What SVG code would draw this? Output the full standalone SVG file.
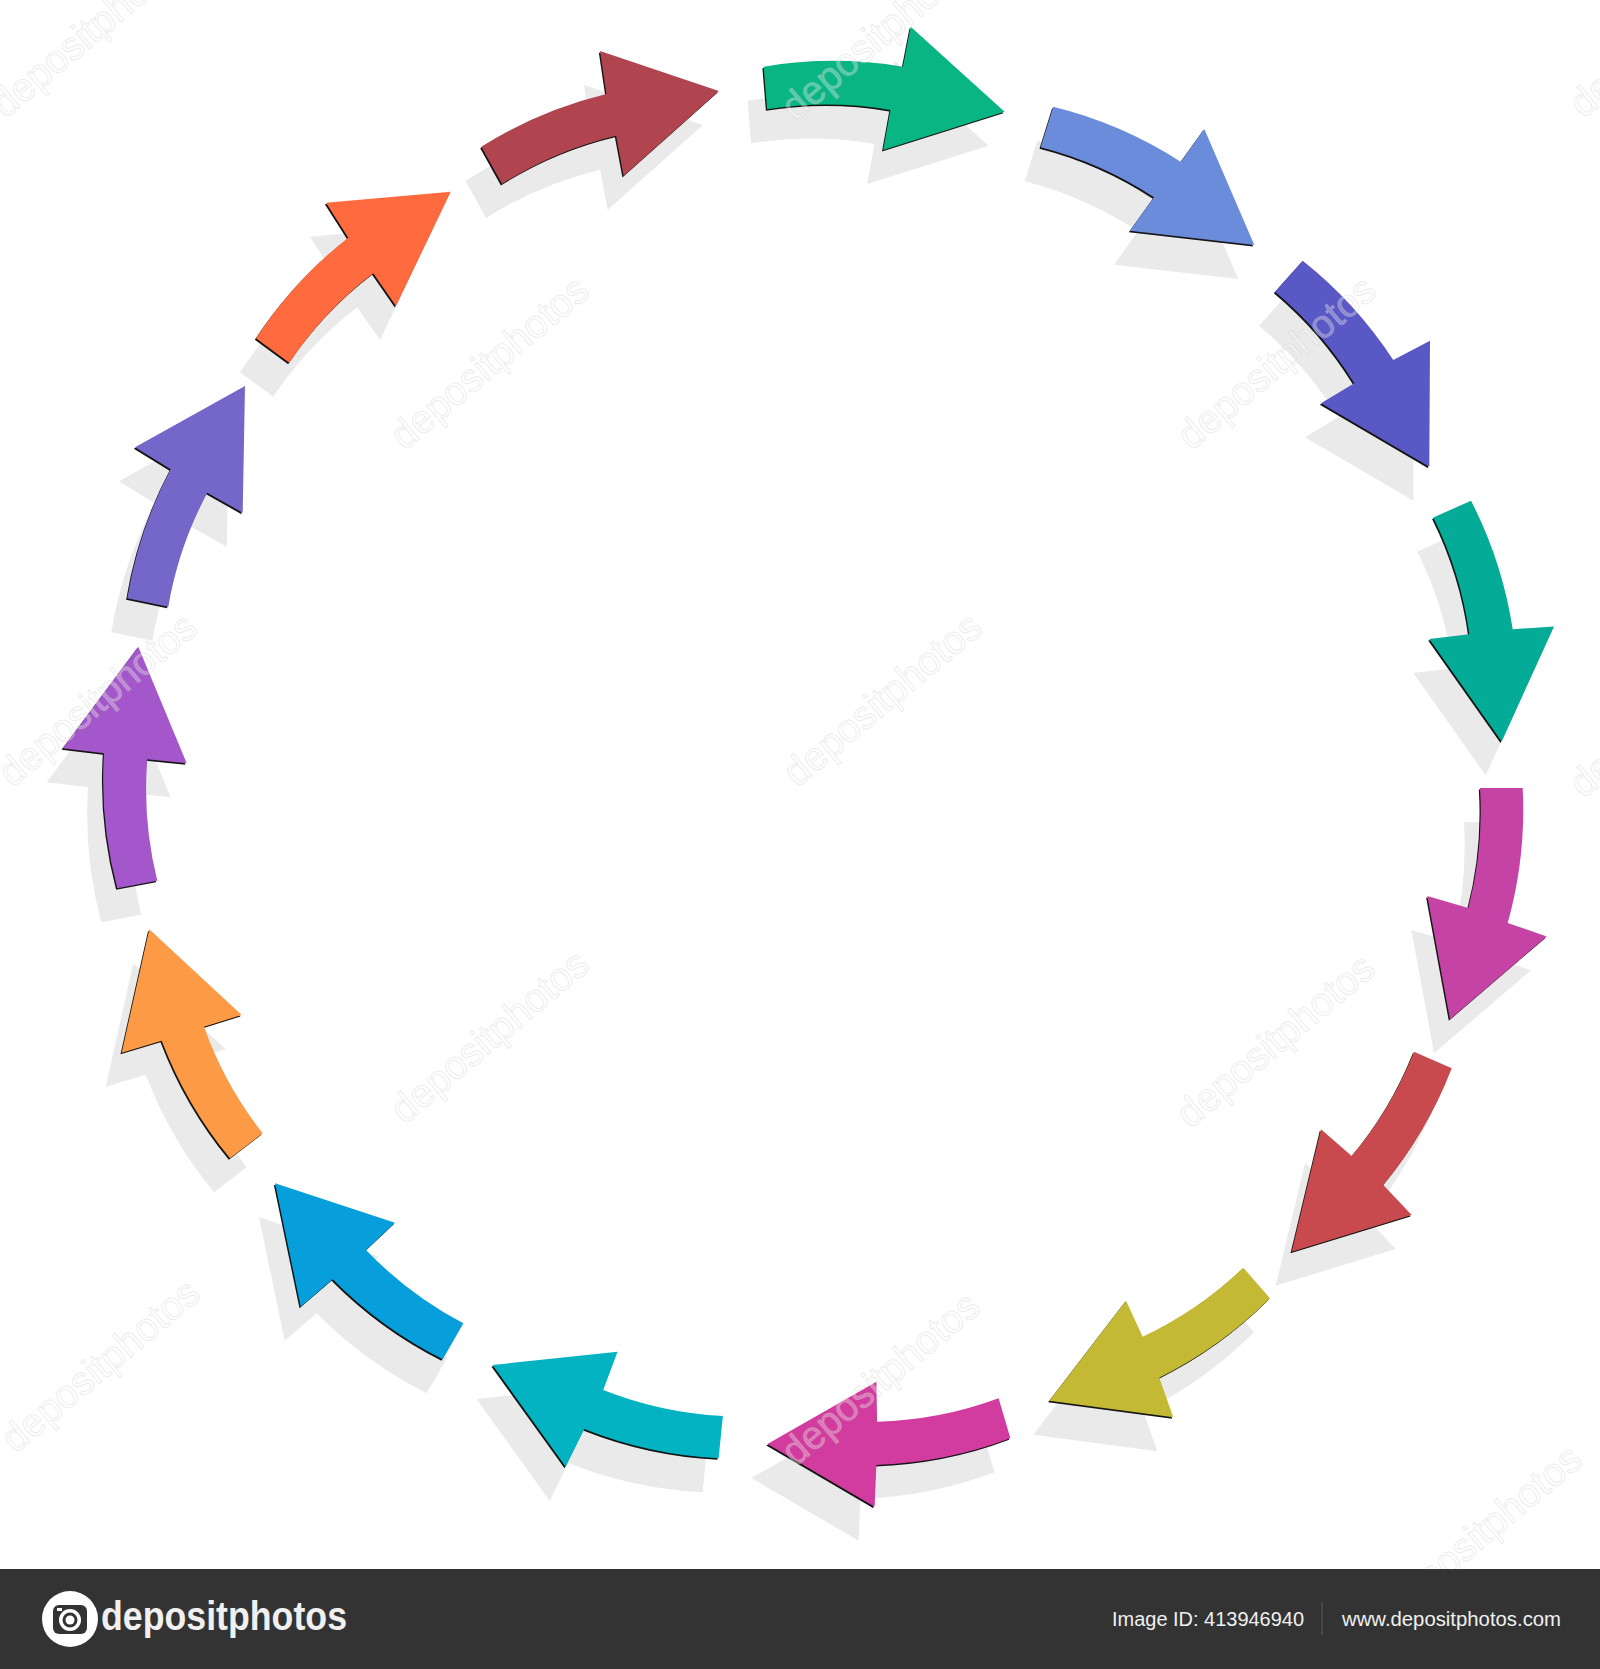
<svg xmlns="http://www.w3.org/2000/svg" xmlns:xlink="http://www.w3.org/1999/xlink" width="1600" height="1669" viewBox="0 0 1600 1669">
<style>
.shadow{fill:#eaeaea}
.edge{fill:#141414}
.wm{font-family:"Liberation Sans","DejaVu Sans",sans-serif;font-size:40px;fill:#ffffff;fill-opacity:0.32;stroke:#c8c8c8;stroke-opacity:0.35;stroke-width:1}
.bar-text{font-family:"Liberation Sans","DejaVu Sans",sans-serif;fill:#f0f0f0}
</style>
<defs>
<path id="p1" d="M763.6,66.7 A420,420 0 0 1 902.9,66.7 L910.7,26.7 L1004.6,111.7 L883.2,150 L890.4,110 A378,378 0 0 0 767.1,109.3 Z"/>
<path id="p2" d="M1053.3,106.7 A420,420 0 0 1 1180.7,161.7 L1204.3,129 L1254.3,245 L1130,230.7 L1154,197.3 A378,378 0 0 0 1040.7,147.3 Z"/>
<path id="p3" d="M1302.7,260.7 A420,420 0 0 1 1393.3,360 L1430,340.7 L1429.3,466.7 L1321,403.3 L1354.3,383.3 A378,378 0 0 0 1275,291.7 Z"/>
<path id="p4" d="M1471,500.7 A420,420 0 0 1 1512.7,629.3 L1554,626.4 L1501.7,741.4 L1429.3,638.9 L1469.3,634.3 A378,378 0 0 0 1433.3,517.5 Z"/>
<path id="p5" d="M1522.7,787.9 A420,420 0 0 1 1507.7,922.9 L1546.7,936.4 L1450,1019.3 L1427.3,896.1 L1468.3,907.9 A378,378 0 0 0 1480,787.9 Z"/>
<path id="p6" d="M1451.7,1068.3 A420,420 0 0 1 1383.3,1185 L1411.7,1215 L1291.7,1251.7 L1321,1129.3 L1351.7,1156 A378,378 0 0 0 1414,1051.7 Z"/>
<path id="p7" d="M1270,1298.3 A420,420 0 0 1 1159.3,1377.7 L1173.3,1417.3 L1049.3,1400.7 L1126,1300.7 L1142.7,1336.7 A378,378 0 0 0 1243.3,1267.7 Z"/>
<path id="p8" d="M1010.4,1438.3 A420,420 0 0 1 876.4,1465 L874.6,1506.7 L767.5,1444 L876.4,1381.7 L877.1,1421.7 A378,378 0 0 0 998.6,1398.3 Z"/>
<path id="p9" d="M718.6,1458.3 A420,420 0 0 1 584.3,1429 L565.7,1466.7 L492.5,1365 L617.5,1351.7 L603.2,1390 A378,378 0 0 0 722.9,1416 Z"/>
<path id="p10" d="M442.7,1359.3 A420,420 0 0 1 332.7,1279.3 L300.7,1306.7 L275,1183.3 L395,1222.7 L366,1250 A378,378 0 0 0 463.3,1323.3 Z"/>
<path id="p11" d="M230,1158.3 A420,420 0 0 1 161.7,1040.7 L121.7,1052.7 L149.3,929.3 L241.7,1015 L204,1026.7 A378,378 0 0 0 262.7,1133.3 Z"/>
<path id="p12" d="M117.3,888.3 A420,420 0 0 1 104,753.3 L62.7,748.3 L138.3,646.7 L186.7,763.3 L147.3,759.3 A378,378 0 0 0 157.3,880.7 Z"/>
<path id="p13" d="M127.3,598.3 A420,420 0 0 1 170.7,469.3 L135,447.3 L245,386 L242.7,512.7 L207.3,492.7 A378,378 0 0 0 168.3,606.7 Z"/>
<path id="p14" d="M256,338.3 A420,420 0 0 1 348.3,237.7 L326,202.7 L450.7,191.7 L396,306 L373.3,273.3 A378,378 0 0 0 289.3,362.7 Z"/>
<path id="p15" d="M481.4,146.7 A420,420 0 0 1 606.4,94 L600,51 L718.9,91 L623.6,176 L616.1,135.7 A378,378 0 0 0 502.1,184 Z"/>
</defs>
<rect width="1600" height="1669" fill="#ffffff"/>
<g id="shadows" class="shadow" transform="translate(-16,34)">
<use xlink:href="#p1"/><use xlink:href="#p2"/><use xlink:href="#p3"/><use xlink:href="#p4"/><use xlink:href="#p5"/>
<use xlink:href="#p6"/><use xlink:href="#p7"/><use xlink:href="#p8"/><use xlink:href="#p9"/><use xlink:href="#p10"/>
<use xlink:href="#p11"/><use xlink:href="#p12"/><use xlink:href="#p13"/><use xlink:href="#p14"/><use xlink:href="#p15"/>
</g>
<g id="connectors"></g>
<g id="arrow-01"><use xlink:href="#p1" class="edge" transform="translate(-1.2,1.5)"/><use xlink:href="#p1" fill="#0ab584"/></g>
<g id="arrow-02"><use xlink:href="#p2" class="edge" transform="translate(-1.2,1.5)"/><use xlink:href="#p2" fill="#6a8cda"/></g>
<g id="arrow-03"><use xlink:href="#p3" class="edge" transform="translate(-1.2,1.5)"/><use xlink:href="#p3" fill="#5a58c5"/></g>
<g id="arrow-04"><use xlink:href="#p4" class="edge" transform="translate(-1.2,1.5)"/><use xlink:href="#p4" fill="#04ac98"/></g>
<g id="arrow-05"><use xlink:href="#p5" class="edge" transform="translate(-1.2,1.5)"/><use xlink:href="#p5" fill="#c443a4"/></g>
<g id="arrow-06"><use xlink:href="#p6" class="edge" transform="translate(-1.2,1.5)"/><use xlink:href="#p6" fill="#c84a4e"/></g>
<g id="arrow-07"><use xlink:href="#p7" class="edge" transform="translate(-1.2,1.5)"/><use xlink:href="#p7" fill="#c4b934"/></g>
<g id="arrow-08"><use xlink:href="#p8" class="edge" transform="translate(-1.2,1.5)"/><use xlink:href="#p8" fill="#d13c9e"/></g>
<g id="arrow-09"><use xlink:href="#p9" class="edge" transform="translate(-1.2,1.5)"/><use xlink:href="#p9" fill="#03b3c2"/></g>
<g id="arrow-10"><use xlink:href="#p10" class="edge" transform="translate(-1.2,1.5)"/><use xlink:href="#p10" fill="#069fdb"/></g>
<g id="arrow-11"><use xlink:href="#p11" class="edge" transform="translate(-1.2,1.5)"/><use xlink:href="#p11" fill="#fd9a45"/></g>
<g id="arrow-12"><use xlink:href="#p12" class="edge" transform="translate(-1.2,1.5)"/><use xlink:href="#p12" fill="#a457ca"/></g>
<g id="arrow-13"><use xlink:href="#p13" class="edge" transform="translate(-1.2,1.5)"/><use xlink:href="#p13" fill="#7566c9"/></g>
<g id="arrow-14"><use xlink:href="#p14" class="edge" transform="translate(-1.2,1.5)"/><use xlink:href="#p14" fill="#ff6a3e"/></g>
<g id="arrow-15"><use xlink:href="#p15" class="edge" transform="translate(-1.2,1.5)"/><use xlink:href="#p15" fill="#b0454f"/></g>
<g id="watermarks" class="wm" text-anchor="middle" dominant-baseline="central">
<text transform="translate(90,30) rotate(-40)" textLength="244" lengthAdjust="spacingAndGlyphs">depositphotos</text>
<text transform="translate(880,33) rotate(-40)" textLength="244" lengthAdjust="spacingAndGlyphs">depositphotos</text>
<text transform="translate(1668,30) rotate(-40)" textLength="244" lengthAdjust="spacingAndGlyphs">depositphotos</text>
<text transform="translate(489,362) rotate(-40)" textLength="244" lengthAdjust="spacingAndGlyphs">depositphotos</text>
<text transform="translate(1276,362) rotate(-40)" textLength="244" lengthAdjust="spacingAndGlyphs">depositphotos</text>
<text transform="translate(97,699) rotate(-40)" textLength="244" lengthAdjust="spacingAndGlyphs">depositphotos</text>
<text transform="translate(882,699) rotate(-40)" textLength="244" lengthAdjust="spacingAndGlyphs">depositphotos</text>
<text transform="translate(1668,710) rotate(-40)" textLength="244" lengthAdjust="spacingAndGlyphs">depositphotos</text>
<text transform="translate(489,1036) rotate(-40)" textLength="244" lengthAdjust="spacingAndGlyphs">depositphotos</text>
<text transform="translate(1275,1040) rotate(-40)" textLength="244" lengthAdjust="spacingAndGlyphs">depositphotos</text>
<text transform="translate(100,1365) rotate(-40)" textLength="244" lengthAdjust="spacingAndGlyphs">depositphotos</text>
<text transform="translate(880,1378) rotate(-40)" textLength="244" lengthAdjust="spacingAndGlyphs">depositphotos</text>
<text transform="translate(1482,1531) rotate(-40)" textLength="244" lengthAdjust="spacingAndGlyphs">depositphotos</text>
</g>
<g id="footer">
<rect x="0" y="1569" width="1600" height="100" fill="#333333"/>
<g id="logo">
<circle cx="70" cy="1619" r="28" fill="#ffffff"/>
<rect x="53" y="1605" width="34" height="29" rx="6" fill="#333333"/>
<circle cx="70" cy="1620" r="11" fill="#ffffff"/>
<circle cx="70" cy="1620" r="7.5" fill="#333333"/>
<circle cx="70" cy="1620" r="4.5" fill="#ffffff"/>
<rect x="57" y="1608" width="5" height="3" fill="#ffffff"/>
</g>
<text class="bar-text" x="101" y="1630" font-size="40" font-weight="bold" fill="#ffffff" textLength="246" lengthAdjust="spacingAndGlyphs">depositphotos</text>
<text class="bar-text" x="1112" y="1626" font-size="20" textLength="192" lengthAdjust="spacingAndGlyphs">Image ID: 413946940</text>
<line x1="1322" y1="1602" x2="1322" y2="1635" stroke="#5a5a5a" stroke-width="1"/>
<text class="bar-text" x="1342" y="1626" font-size="20" textLength="219" lengthAdjust="spacingAndGlyphs">www.depositphotos.com</text>
</g>
</svg>
